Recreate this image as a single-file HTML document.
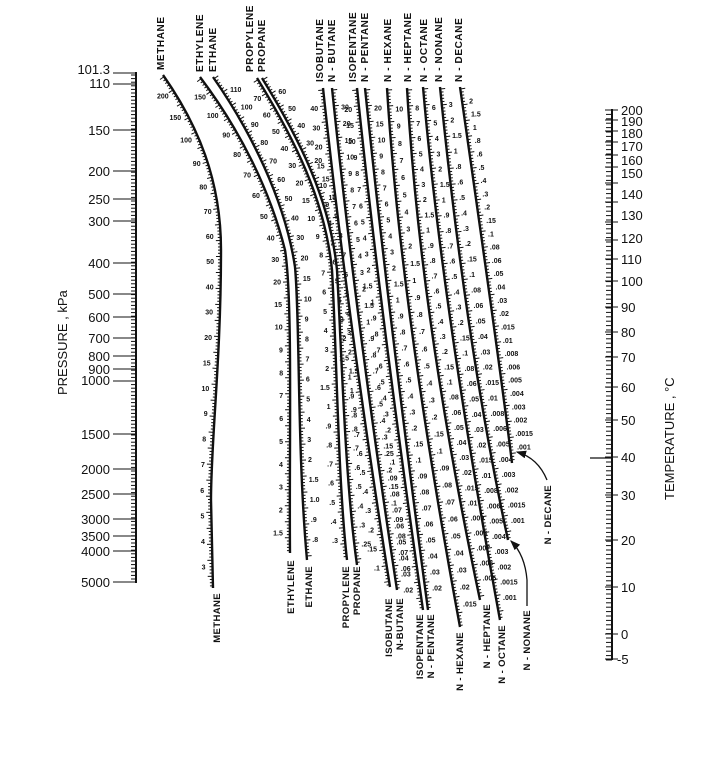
<!DOCTYPE html>
<html><head><meta charset="utf-8"><style>
html,body{margin:0;padding:0;background:#fff;}
svg{display:block;font-family:"Liberation Sans",sans-serif;}
.t{font-size:10px;font-weight:bold;fill:#111;letter-spacing:0.6px;}
.b{font-size:9.5px;font-weight:bold;fill:#111;letter-spacing:0.4px;}
.n{font-size:7px;font-weight:bold;fill:#111;}
.ax{font-size:13px;fill:#111;}
</style></head><body>
<svg id="s" width="720" height="774" viewBox="0 0 720 774" xmlns="http://www.w3.org/2000/svg">
<g id="curves" fill="none" stroke="#111" stroke-width="2.4">
<path id="c0" d="M163,75 C198,125 221,180 221,250 C221,360 211,440 211,500 L213,588"/>
<path id="c1" d="M200,77 C240,130 270,190 285,250 C293,300 289,450 290,553"/>
<path id="c2" d="M213,77 C250,130 285,200 295,267 C300,320 297,450 307,560"/>
<path id="c3" d="M257,78 C295,140 325,200 332,270 C337,360 338,480 347,560"/>
<path id="c4" d="M262,78 C300,140 330,200 337,270 C342,360 345,480 357,565"/>
<path id="c5" d="M323,88 Q348,322 390,587"/>
<path id="c6" d="M332,88 Q356,321 397,590"/>
<path id="c7" d="M357,88 Q380,311 423,610"/>
<path id="c8" d="M365,88 Q388,311 428,610"/>
<path id="c9" d="M387,88 Q400,302 460,627"/>
<path id="c10" d="M407,88 Q420,316 480,600"/>
<path id="c11" d="M423,87 Q442,306 500,620"/>
<path id="c12" d="M440,87 Q466,346 508,540"/>
<path id="c13" d="M460,87 Q500,365 512,463"/>
</g>
<g id="tk" stroke="#111" stroke-width="1"></g>

<g id="L0" class="n"><text>200</text><text>150</text><text>100</text><text>90</text><text>80</text><text>70</text><text>60</text><text>50</text><text>40</text><text>30</text><text>20</text><text>15</text><text>10</text><text>9</text><text>8</text><text>7</text><text>6</text><text>5</text><text>4</text><text>3</text></g>
<g id="L1" class="n"><text>150</text><text>100</text><text>90</text><text>80</text><text>70</text><text>60</text><text>50</text><text>40</text><text>30</text><text>20</text><text>15</text><text>10</text><text>9</text><text>8</text><text>7</text><text>6</text><text>5</text><text>4</text><text>3</text><text>2</text><text>1.5</text></g>
<g id="L2" class="n"><text>110</text><text>100</text><text>90</text><text>80</text><text>70</text><text>60</text><text>50</text><text>40</text><text>30</text><text>20</text><text>15</text><text>10</text><text>9</text><text>8</text><text>7</text><text>6</text><text>5</text><text>4</text><text>3</text><text>2</text><text>1.5</text><text>1.0</text><text>.9</text><text>.8</text></g>
<g id="L3" class="n"><text>70</text><text>60</text><text>50</text><text>40</text><text>30</text><text>20</text><text>15</text><text>10</text><text>9</text><text>8</text><text>7</text><text>6</text><text>5</text><text>4</text><text>3</text><text>2</text><text>1.5</text><text>1</text><text>.9</text><text>.8</text><text>.7</text><text>.6</text><text>.5</text><text>.4</text><text>.3</text></g>
<g id="L4" class="n"><text>60</text><text>50</text><text>40</text><text>30</text><text>20</text><text>15</text><text>10</text><text>9</text><text>8</text><text>7</text><text>6</text><text>5</text><text>4</text><text>3</text><text>2</text><text>1.5</text><text>1</text><text>.9</text><text>.8</text><text>.7</text><text>.6</text><text>.5</text><text>.4</text><text>.3</text><text>.25</text></g>
<g id="L5" class="n"><text>40</text><text>30</text><text>20</text><text>15</text><text>10</text><text>9</text><text>8</text><text>7</text><text>6</text><text>5</text><text>4</text><text>3</text><text>2</text><text>1.5</text><text>1</text><text>.9</text><text>.8</text><text>.7</text><text>.6</text><text>.5</text><text>.4</text><text>.3</text><text>.2</text><text>.15</text><text>.1</text></g>
<g id="L6" class="n"><text>30</text><text>20</text><text>15</text><text>10</text><text>9</text><text>8</text><text>7</text><text>6</text><text>5</text><text>4</text><text>3</text><text>2</text><text>1.5</text><text>1</text><text>.9</text><text>.8</text><text>.7</text><text>.6</text><text>.5</text><text>.4</text><text>.3</text><text>.25</text><text>.2</text><text>.15</text><text>.1</text><text>.09</text><text>.08</text><text>.07</text><text>.06</text></g>
<g id="L7" class="n"><text>20</text><text>15</text><text>10</text><text>9</text><text>8</text><text>7</text><text>6</text><text>5</text><text>4</text><text>3</text><text>2</text><text>1.5</text><text>1</text><text>.9</text><text>.8</text><text>.7</text><text>.6</text><text>.5</text><text>.4</text><text>.3</text><text>.2</text><text>.15</text><text>.1</text><text>.09</text><text>.08</text><text>.07</text><text>.06</text><text>.05</text><text>.04</text><text>.03</text><text>.02</text></g>
<g id="L8" class="n"><text>20</text><text>15</text><text>10</text><text>9</text><text>8</text><text>7</text><text>6</text><text>5</text><text>4</text><text>3</text><text>2</text><text>1.5</text><text>1</text><text>.9</text><text>.8</text><text>.7</text><text>.6</text><text>.5</text><text>.4</text><text>.3</text><text>.2</text><text>.15</text><text>.1</text><text>.09</text><text>.08</text><text>.07</text><text>.06</text><text>.05</text><text>.04</text><text>.03</text><text>.02</text></g>
<g id="L9" class="n"><text>10</text><text>9</text><text>8</text><text>7</text><text>6</text><text>5</text><text>4</text><text>3</text><text>2</text><text>1.5</text><text>1</text><text>.9</text><text>.8</text><text>.7</text><text>.6</text><text>.5</text><text>.4</text><text>.3</text><text>.2</text><text>.15</text><text>.1</text><text>.09</text><text>.08</text><text>.07</text><text>.06</text><text>.05</text><text>.04</text><text>.03</text><text>.02</text><text>.015</text></g>
<g id="L10" class="n"><text>8</text><text>7</text><text>6</text><text>5</text><text>4</text><text>3</text><text>2</text><text>1.5</text><text>1</text><text>.9</text><text>.8</text><text>.7</text><text>.6</text><text>.5</text><text>.4</text><text>.3</text><text>.2</text><text>.15</text><text>.1</text><text>.08</text><text>.06</text><text>.05</text><text>.04</text><text>.03</text><text>.02</text><text>.015</text><text>.01</text><text>.009</text><text>.008</text><text>.007</text><text>.006</text><text>.005</text></g>
<g id="L11" class="n"><text>6</text><text>5</text><text>4</text><text>3</text><text>2</text><text>1.5</text><text>1</text><text>.9</text><text>.8</text><text>.7</text><text>.6</text><text>.5</text><text>.4</text><text>.3</text><text>.2</text><text>.15</text><text>.1</text><text>.08</text><text>.06</text><text>.05</text><text>.04</text><text>.03</text><text>.02</text><text>.015</text><text>.01</text><text>.008</text><text>.006</text><text>.005</text><text>.004</text><text>.003</text><text>.002</text><text>.0015</text><text>.001</text></g>
<g id="L12" class="n"><text>3</text><text>2</text><text>1.5</text><text>1</text><text>.8</text><text>.6</text><text>.5</text><text>.4</text><text>.3</text><text>.2</text><text>.15</text><text>.1</text><text>.08</text><text>.06</text><text>.05</text><text>.04</text><text>.03</text><text>.02</text><text>.015</text><text>.01</text><text>.008</text><text>.006</text><text>.005</text><text>.004</text><text>.003</text><text>.002</text><text>.0015</text><text>.001</text></g>
<g id="L13" class="n"><text>2</text><text>1.5</text><text>1</text><text>.8</text><text>.6</text><text>.5</text><text>.4</text><text>.3</text><text>.2</text><text>.15</text><text>.1</text><text>.08</text><text>.06</text><text>.05</text><text>.04</text><text>.03</text><text>.02</text><text>.015</text><text>.01</text><text>.008</text><text>.006</text><text>.005</text><text>.004</text><text>.003</text><text>.002</text><text>.0015</text><text>.001</text></g>

<g class="t">
<text transform="translate(164,70) rotate(-90)">METHANE</text>
<text transform="translate(203,72) rotate(-90)">ETHYLENE</text>
<text transform="translate(216,72) rotate(-90)">ETHANE</text>
<text transform="translate(253,72) rotate(-90)">PROPYLENE</text>
<text transform="translate(265,72) rotate(-90)">PROPANE</text>
<text transform="translate(323,82) rotate(-90)">ISOBUTANE</text>
<text transform="translate(335,82) rotate(-90)">N - BUTANE</text>
<text transform="translate(356,82) rotate(-90)">ISOPENTANE</text>
<text transform="translate(368,82) rotate(-90)">N - PENTANE</text>
<text transform="translate(391,82) rotate(-90)">N - HEXANE</text>
<text transform="translate(411,82) rotate(-90)">N - HEPTANE</text>
<text transform="translate(427,82) rotate(-90)">N - OCTANE</text>
<text transform="translate(442,82) rotate(-90)">N - NONANE</text>
<text transform="translate(462,82) rotate(-90)">N - DECANE</text>
</g>
<g class="b" text-anchor="end">
<text transform="translate(220,593) rotate(-90)">METHANE</text>
<text transform="translate(294,560) rotate(-90)">ETHYLENE</text>
<text transform="translate(312,566) rotate(-90)">ETHANE</text>
<text transform="translate(349,566) rotate(-90)">PROPYLENE</text>
<text transform="translate(360,566) rotate(-90)">PROPANE</text>
<text transform="translate(392,598) rotate(-90)">ISOBUTANE</text>
<text transform="translate(403,598) rotate(-90)">N-BUTANE</text>
<text transform="translate(423,614) rotate(-90)">ISOPENTANE</text>
<text transform="translate(434,614) rotate(-90)">N - PENTANE</text>
<text transform="translate(463,632) rotate(-90)">N - HEXANE</text>
<text transform="translate(490,604) rotate(-90)">N - HEPTANE</text>
<text transform="translate(505,625) rotate(-90)">N - OCTANE</text>
<text transform="translate(530,610) rotate(-90)">N - NONANE</text>
<text transform="translate(551,485) rotate(-90)">N - DECANE</text>
</g>
<defs><marker id="ar" markerWidth="8" markerHeight="6" refX="7" refY="3" orient="auto"><path d="M0,0 L8,3 L0,6 z" fill="#111"/></marker></defs>
<path d="M547,480 Q538,458 517,452" fill="none" stroke="#111" stroke-width="1.3" marker-end="url(#ar)"/>
<path d="M527,606 L527,580 Q525,555 511,541" fill="none" stroke="#111" stroke-width="1.3" marker-end="url(#ar)"/>

<line x1="136" y1="72" x2="136" y2="583" stroke="#111" stroke-width="2"/>
<g id="pt" stroke="#111" stroke-width="1"></g>
<g class="ax" text-anchor="end">
<text x="110" y="74">101.3</text><text x="110" y="88">110</text><text x="110" y="135">150</text><text x="110" y="176">200</text><text x="110" y="204">250</text><text x="110" y="226">300</text><text x="110" y="268">400</text><text x="110" y="299">500</text><text x="110" y="322">600</text><text x="110" y="343">700</text><text x="110" y="361">800</text><text x="110" y="374">900</text><text x="110" y="385">1000</text><text x="110" y="439">1500</text><text x="110" y="474">2000</text><text x="110" y="499">2500</text><text x="110" y="524">3000</text><text x="110" y="541">3500</text><text x="110" y="556">4000</text><text x="110" y="587">5000</text>
</g>
<text class="ax" transform="translate(67,395) rotate(-90)" font-size="12">PRESSURE , kPa</text>

<line x1="612" y1="109" x2="612" y2="660" stroke="#111" stroke-width="2"/>
<line x1="590" y1="458" x2="612" y2="458" stroke="#111" stroke-width="1.2"/>
<g id="tt" stroke="#111" stroke-width="1"></g>
<g class="ax">
<text x="621" y="115">200</text><text x="621" y="126">190</text><text x="621" y="138">180</text><text x="621" y="151">170</text><text x="621" y="165">160</text><text x="621" y="178">150</text><text x="621" y="199">140</text><text x="621" y="220">130</text><text x="621" y="243">120</text><text x="621" y="264">110</text><text x="621" y="286">100</text><text x="621" y="312">90</text><text x="621" y="337">80</text><text x="621" y="362">70</text><text x="621" y="392">60</text><text x="621" y="425">50</text><text x="621" y="462">40</text><text x="621" y="500">30</text><text x="621" y="545">20</text><text x="621" y="592">10</text><text x="621" y="639">0</text><text x="617" y="664">-5</text>
</g>
<text class="ax" transform="translate(674,500) rotate(-90)" font-size="12">TEMPERATURE , °C</text>
</svg>
<script>
(function(){
var NS="http://www.w3.org/2000/svg";
function ln(g,x1,y1,x2,y2){var l=document.createElementNS(NS,"line");l.setAttribute("x1",x1);l.setAttribute("y1",y1);l.setAttribute("x2",x2);l.setAttribute("y2",y2);g.appendChild(l);}
var tk=document.getElementById("tk");
var sides=[1,1,-1,1,-1,1,-1,1,-1,-1,-1,-1,-1,-1];
for(var i=0;i<14;i++){
 var p=document.getElementById("c"+i),L=p.getTotalLength(),sd=sides[i],k=0;
 var nrm=function(s){var a=p.getPointAtLength(Math.max(0,s-0.5)),b=p.getPointAtLength(Math.min(L,s+0.5));var dx=b.x-a.x,dy=b.y-a.y,m=Math.hypot(dx,dy)||1;return [-dy/m,dx/m];};
 for(var s=2;s<L-1;s+=3.2,k++){var q=p.getPointAtLength(s),n=nrm(s),len=(k%5==0)?5:3;ln(tk,q.x,q.y,q.x+sd*n[0]*len,q.y+sd*n[1]*len);}
 var g=document.getElementById("L"+i),ts=g.getElementsByTagName("text"),N=ts.length;
 for(var j=0;j<N;j++){var s2=L*(0.04+0.92*j/(N-1||1)),q2=p.getPointAtLength(s2),n2=nrm(s2);
  var x=q2.x+sd*n2[0]*7,y=q2.y+sd*n2[1]*7+2.3;ts[j].setAttribute("x",x.toFixed(1));ts[j].setAttribute("y",y.toFixed(1));ts[j].setAttribute("text-anchor",sd>0?"end":"start");}
}
var P=[[101.3,73],[110,84],[150,130],[200,171],[250,199],[300,221],[400,263],[500,294],[600,317],[700,338],[800,356],[900,369],[1000,381],[1500,434],[2000,469],[2500,494],[3000,519],[3500,536],[4000,551],[5000,582]];
var pt=document.getElementById("pt");
for(var a=0;a<P.length;a++){ln(pt,113,P[a][1],136,P[a][1]);}
for(var y=75;y<582;y+=3.6){ln(pt,131,y,136,y);}
var tt=document.getElementById("tt");
var T=[110,120,131,142,155,167,183,202,222,240,259,281,307,332,357,387,420,457,495,540,587,634,659];
for(var b=0;b<T.length;b++){ln(tt,605,T[b],618,T[b]);}
for(var y2=110;y2<660;y2+=4.4){ln(tt,606,y2,612,y2);}
})();
</script>
</body></html>
